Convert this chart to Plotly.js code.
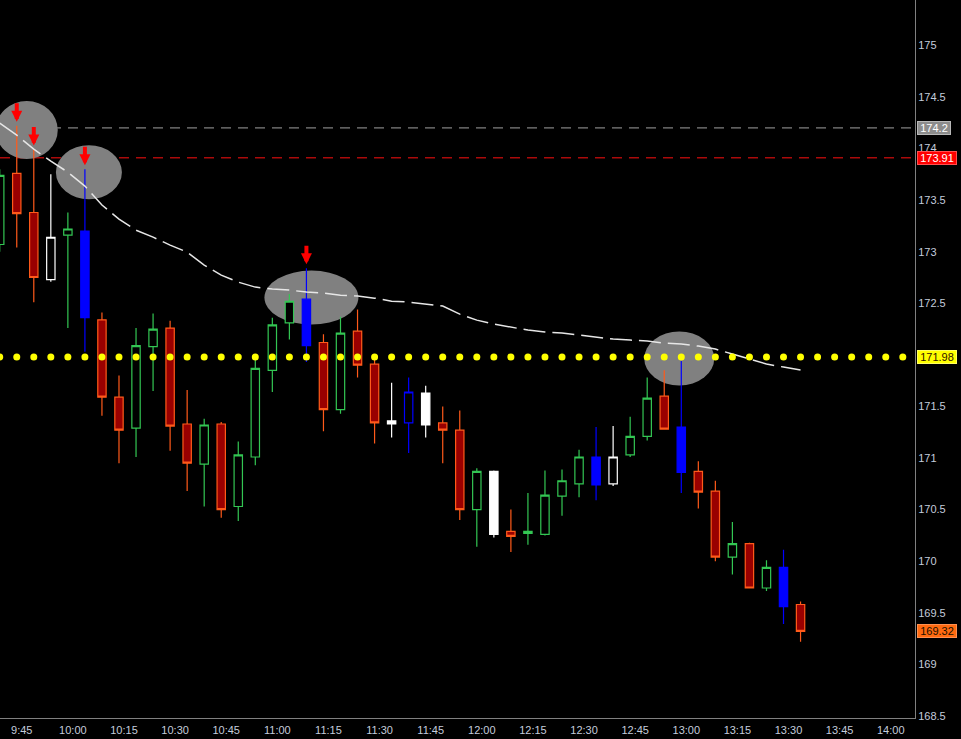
<!DOCTYPE html>
<html>
<head>
<meta charset="utf-8">
<script src="https://cdn.plot.ly/plotly-3.0.1.min.js"></script>
<style>
  html, body { margin: 0; padding: 0; background: #000; }
  #chart { width: 961px; height: 739px; }
</style>
</head>
<body>
<div id="chart"></div>
<script>
const day = '2024-01-02 ';
const barTimes = ['09:40','09:45','09:50','09:55','10:00','10:05','10:10','10:15','10:20','10:25','10:30','10:35','10:40','10:45','10:50','10:55','11:00','11:05','11:10','11:15','11:20','11:25','11:30','11:35','11:40','11:45','11:50','11:55','12:00','12:05','12:10','12:15','12:20','12:25','12:30','12:35','12:40','12:45','12:50','12:55','13:00','13:05','13:10','13:15','13:20','13:25','13:30','13:35'];
const futureTimes = ['13:40','13:45','13:50','13:55','14:00','14:05'];

const opens  = [173.07,173.76,173.38,172.73,173.16,173.20,172.34,171.59,171.29,172.08,172.26,171.33,170.94,171.33,170.53,171.01,171.85,172.31,172.54,172.12,171.47,172.23,171.91,171.36,171.34,171.63,171.34,171.27,170.50,170.87,170.29,170.27,170.26,170.63,170.75,171.01,170.75,171.03,171.21,171.60,171.30,170.87,170.68,170.04,170.17,169.74,169.94,169.58];
const highs  = [173.80,174.22,173.99,173.75,173.38,173.80,172.41,171.80,172.26,172.40,172.33,171.66,171.38,171.35,171.16,172.00,172.36,172.59,172.84,172.20,172.37,172.44,171.95,171.73,171.78,171.70,171.50,171.46,170.90,170.88,170.50,170.66,170.88,170.89,171.08,171.30,171.31,171.40,171.78,171.85,171.94,170.97,170.78,170.38,170.18,170.01,170.11,169.61];
const lows   = [173.00,173.04,172.51,172.71,172.26,172.03,171.41,170.95,171.01,171.65,171.07,170.68,170.53,170.42,170.39,170.93,171.64,172.15,171.93,171.26,171.43,171.78,171.14,171.20,171.05,171.20,170.95,170.40,170.14,170.23,170.09,170.16,170.25,170.44,170.62,170.59,170.73,171.01,171.17,171.28,170.66,170.51,170.00,169.87,169.74,169.71,169.39,169.22];
const closes = [173.74,173.37,172.75,173.14,173.22,172.36,171.59,171.27,172.09,172.25,171.31,170.95,171.32,170.50,171.03,171.87,172.29,172.52,172.09,171.47,172.21,171.90,171.34,171.33,171.64,171.32,171.27,170.50,170.87,170.26,170.24,170.29,170.64,170.78,171.01,170.74,171.01,171.21,171.58,171.28,170.86,170.67,170.04,170.17,169.74,169.94,169.56,169.32];
// bar colour class: R red, G green hollow, WH white hollow, WF white filled, BF blue filled, BH blue hollow
const barClass = ['G','R','R','WH','G','BF','R','R','G','G','R','R','G','R','G','G','G','G','BF','R','G','R','R','WF','BH','WF','R','R','G','WF','R','G','G','G','G','BF','WH','G','G','R','BF','R','R','G','R','G','BF','R'];

const vwap = [174.246,174.130,173.994,173.878,173.771,173.636,173.452,173.316,173.209,173.141,173.064,172.996,172.870,172.773,172.705,172.657,172.638,172.628,172.609,172.599,172.579,172.570,172.550,172.521,172.512,172.492,172.473,172.395,172.337,172.298,172.269,172.240,172.221,172.211,172.192,172.172,172.153,172.143,172.134,172.114,172.105,172.085,172.056,172.008,171.959,171.911,171.882,171.853];

const levelPrice = 171.98;
const grayLevel = 174.2;
const redLevel = 173.91;
const lastClose = 169.32;

// arrows above these bars
const arrowBars = ['09:45','09:50','10:05','11:10'];
// grey highlight ellipses: anchor bar time and price
const highlights = [
  {t:'09:45', p:174.18, dx:10, rx:31, ry:29},
  {t:'10:05', p:173.77, dx:4,  rx:33, ry:27},
  {t:'11:10', p:172.555, dx:5, rx:47, ry:27},
  {t:'13:00', p:171.965, dx:-2, rx:35, ry:27}
];

const styles = {
  R:  {fill:'#990000', line:'#ff5a1a'},
  G:  {fill:'#000000', line:'#33c653'},
  WH: {fill:'#000000', line:'#ffffff'},
  WF: {fill:'#ffffff', line:'#ffffff'},
  BF: {fill:'#0000ff', line:'#0000ff'},
  BH: {fill:'#000000', line:'#0000ff'}
};

const tX = t => day + t + ':00';
const traces = [];
Object.keys(styles).forEach(k => {
  const idx = barClass.map((c,i)=>c===k?i:-1).filter(i=>i>=0);
  if (!idx.length) return;
  const st = styles[k];
  const dirStyle = {fillcolor: st.fill, line:{color: st.line, width:1.2}};
  traces.push({
    type:'candlestick',
    x: idx.map(i=>tX(barTimes[i])),
    open: idx.map(i=>opens[i]),
    high: idx.map(i=>highs[i]),
    low: idx.map(i=>lows[i]),
    close: idx.map(i=>closes[i]),
    increasing: dirStyle,
    decreasing: dirStyle,
    whiskerwidth: 0,
    hoverinfo:'skip',
    showlegend:false
  });
});

traces.push({
  type:'scatter', mode:'lines',
  x: barTimes.map(tX), y: vwap,
  line:{color:'#e6e6e6', width:1.5, dash:'22px,7px'},
  hoverinfo:'skip', showlegend:false
});

const dotTimes = barTimes.concat(futureTimes);
traces.push({
  type:'scatter', mode:'markers',
  x: dotTimes.map(tX), y: dotTimes.map(()=>levelPrice),
  marker:{color:'#ffff00', size:7, line:{width:0}},
  hoverinfo:'skip', showlegend:false
});

const shapes = [
  {type:'line', layer:'below', xref:'paper', x0:0, x1:1, yref:'y', y0:grayLevel, y1:grayLevel,
   line:{color:'#a0a0a0', width:1, dash:'10px,7px'}}
];
highlights.forEach(h => {
  shapes.push({type:'circle', layer:'below', xref:'x', xsizemode:'pixel', xanchor:tX(h.t),
    x0:h.dx-h.rx, x1:h.dx+h.rx, yref:'y', ysizemode:'pixel', yanchor:h.p, y0:-h.ry, y1:h.ry,
    fillcolor:'#808080', line:{width:0}});
});
shapes.push({type:'line', layer:'below', xref:'paper', x0:0, x1:1, yref:'y', y0:redLevel, y1:redLevel,
  line:{color:'#ff1010', width:1, dash:'10px,7px'}});

const annotations = arrowBars.map(t => {
  const i = barTimes.indexOf(t);
  return {x:tX(t), y:highs[i], xref:'x', yref:'y', text:'', showarrow:true,
    ax:0, ay:-24, arrowcolor:'#ff0000', arrowwidth:4, arrowhead:2, arrowsize:0.55, standoff:4};
});
const priceTag = (p, txt, bg, fg, border, w) => ({
  xref:'paper', x:1, xanchor:'left', xshift:2, yref:'y', y:p, yanchor:'middle',
  text:txt, showarrow:false, bgcolor:bg, bordercolor:border, borderwidth:1, borderpad:0,
  width:w, align:'center',
  font:{family:'Liberation Sans, Arial, sans-serif', size:11, color:fg}
});
annotations.push(priceTag(grayLevel, '174.2', '#8c8c8c', '#ffffff', '#b8b8b8', 32));
annotations.push(priceTag(redLevel, '173.91', '#ff0000', '#ffffff', '#ff5050', 38));
annotations.push(priceTag(levelPrice, '171.98', '#ffff00', '#301000', '#ffff60', 38));
annotations.push(priceTag(lastClose, '169.32', '#ff6a10', '#201000', '#ff9050', 38));

const layout = {
  width:961, height:739,
  paper_bgcolor:'#000000', plot_bgcolor:'#000000',
  margin:{l:0, r:46, t:0, b:21, pad:0},
  showlegend:false,
  xaxis:{
    type:'date',
    range:[day+'09:40:05', day+'14:08:35'],
    tick0: day+'09:45:00', dtick: 15*60*1000,
    tickformat:'%-H:%M',
    ticklabelshift:5,
    ticklabelstandoff:2,
    showgrid:false, zeroline:false,
    showline:true, linecolor:'#808080', linewidth:1,
    ticks:'',
    tickfont:{family:'Liberation Sans, Arial, sans-serif', size:11, color:'#c4ccdc'},
    rangeslider:{visible:false},
    fixedrange:true
  },
  yaxis:{
    side:'right',
    range:[168.48, 175.44],
    dtick:0.5,
    showgrid:false, zeroline:false,
    showline:true, linecolor:'#808080', linewidth:1,
    ticks:'',
    tickfont:{family:'Liberation Sans, Arial, sans-serif', size:11, color:'#c4ccdc'},
    fixedrange:true
  },
  shapes: shapes,
  annotations: annotations,
  hovermode:false
};

Plotly.newPlot('chart', traces, layout, {staticPlot:true, displayModeBar:false});
</script>
</body>
</html>
